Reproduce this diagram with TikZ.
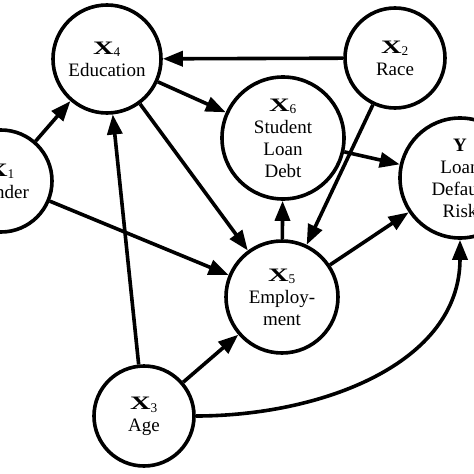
\documentclass[tikz,border=0pt]{standalone}
\usepackage{fontspec}
\usepackage{graphicx}
\setmainfont{Liberation Serif}
\usetikzlibrary{arrows.meta}
\newcommand{\bigX}{\scalebox{1.5}[1]{\textbf{X}}}
\begin{document}
\begin{tikzpicture}[x=1pt,y=-1pt,
  var/.style={circle,draw,line width=3.6pt,fill=white,align=center,inner sep=0pt,
    font=\fontsize{19}{22}\selectfont},
  edge/.style={line width=3.6pt,-{Triangle[length=20pt,width=15pt]}}]
\useasboundingbox (0,0) rectangle (474,474);
\node[var,minimum size=108pt] (X4) at (107,59) {\bigX\textsubscript{4}\\Education};
\node[var,minimum size=102pt] (X1) at (1,181) {\bigX\textsubscript{1}\\Gender};
\node[var,minimum size=100pt] (X2) at (395,58) {\bigX\textsubscript{2}\\Race};
\node[var,minimum size=122pt] (X6) at (283,138) {\bigX\textsubscript{6}\\Student\\Loan\\Debt};
\node[var,minimum size=120pt] (Y) at (460,178) {\textbf{Y}\\Loan\\Default\\Risk};
\node[var,minimum size=112pt] (X5) at (282,297) {\bigX\textsubscript{5}\\Employ-\\ment};
\node[var,minimum size=100pt] (X3) at (144,416) {\bigX\textsubscript{3}\\Age};
\draw[edge] (X2) -- (X4);
\draw[edge] (X4) -- (X6);
\draw[edge] (X1) -- (X4);
\draw[edge] (X4) -- (X5);
\draw[edge] (X1) -- (X5);
\draw[edge] (X3) -- (X4);
\draw[edge] (X3) -- (X5);
\draw[edge] (X5) -- (X6);
\draw[edge] (X2) -- (X5);
\draw[edge] (X6) -- (Y);
\draw[edge] (X5) -- (Y);
\draw[edge] (X3.east) to[out=0,in=-90] (Y.south);
\end{tikzpicture}
\end{document}
